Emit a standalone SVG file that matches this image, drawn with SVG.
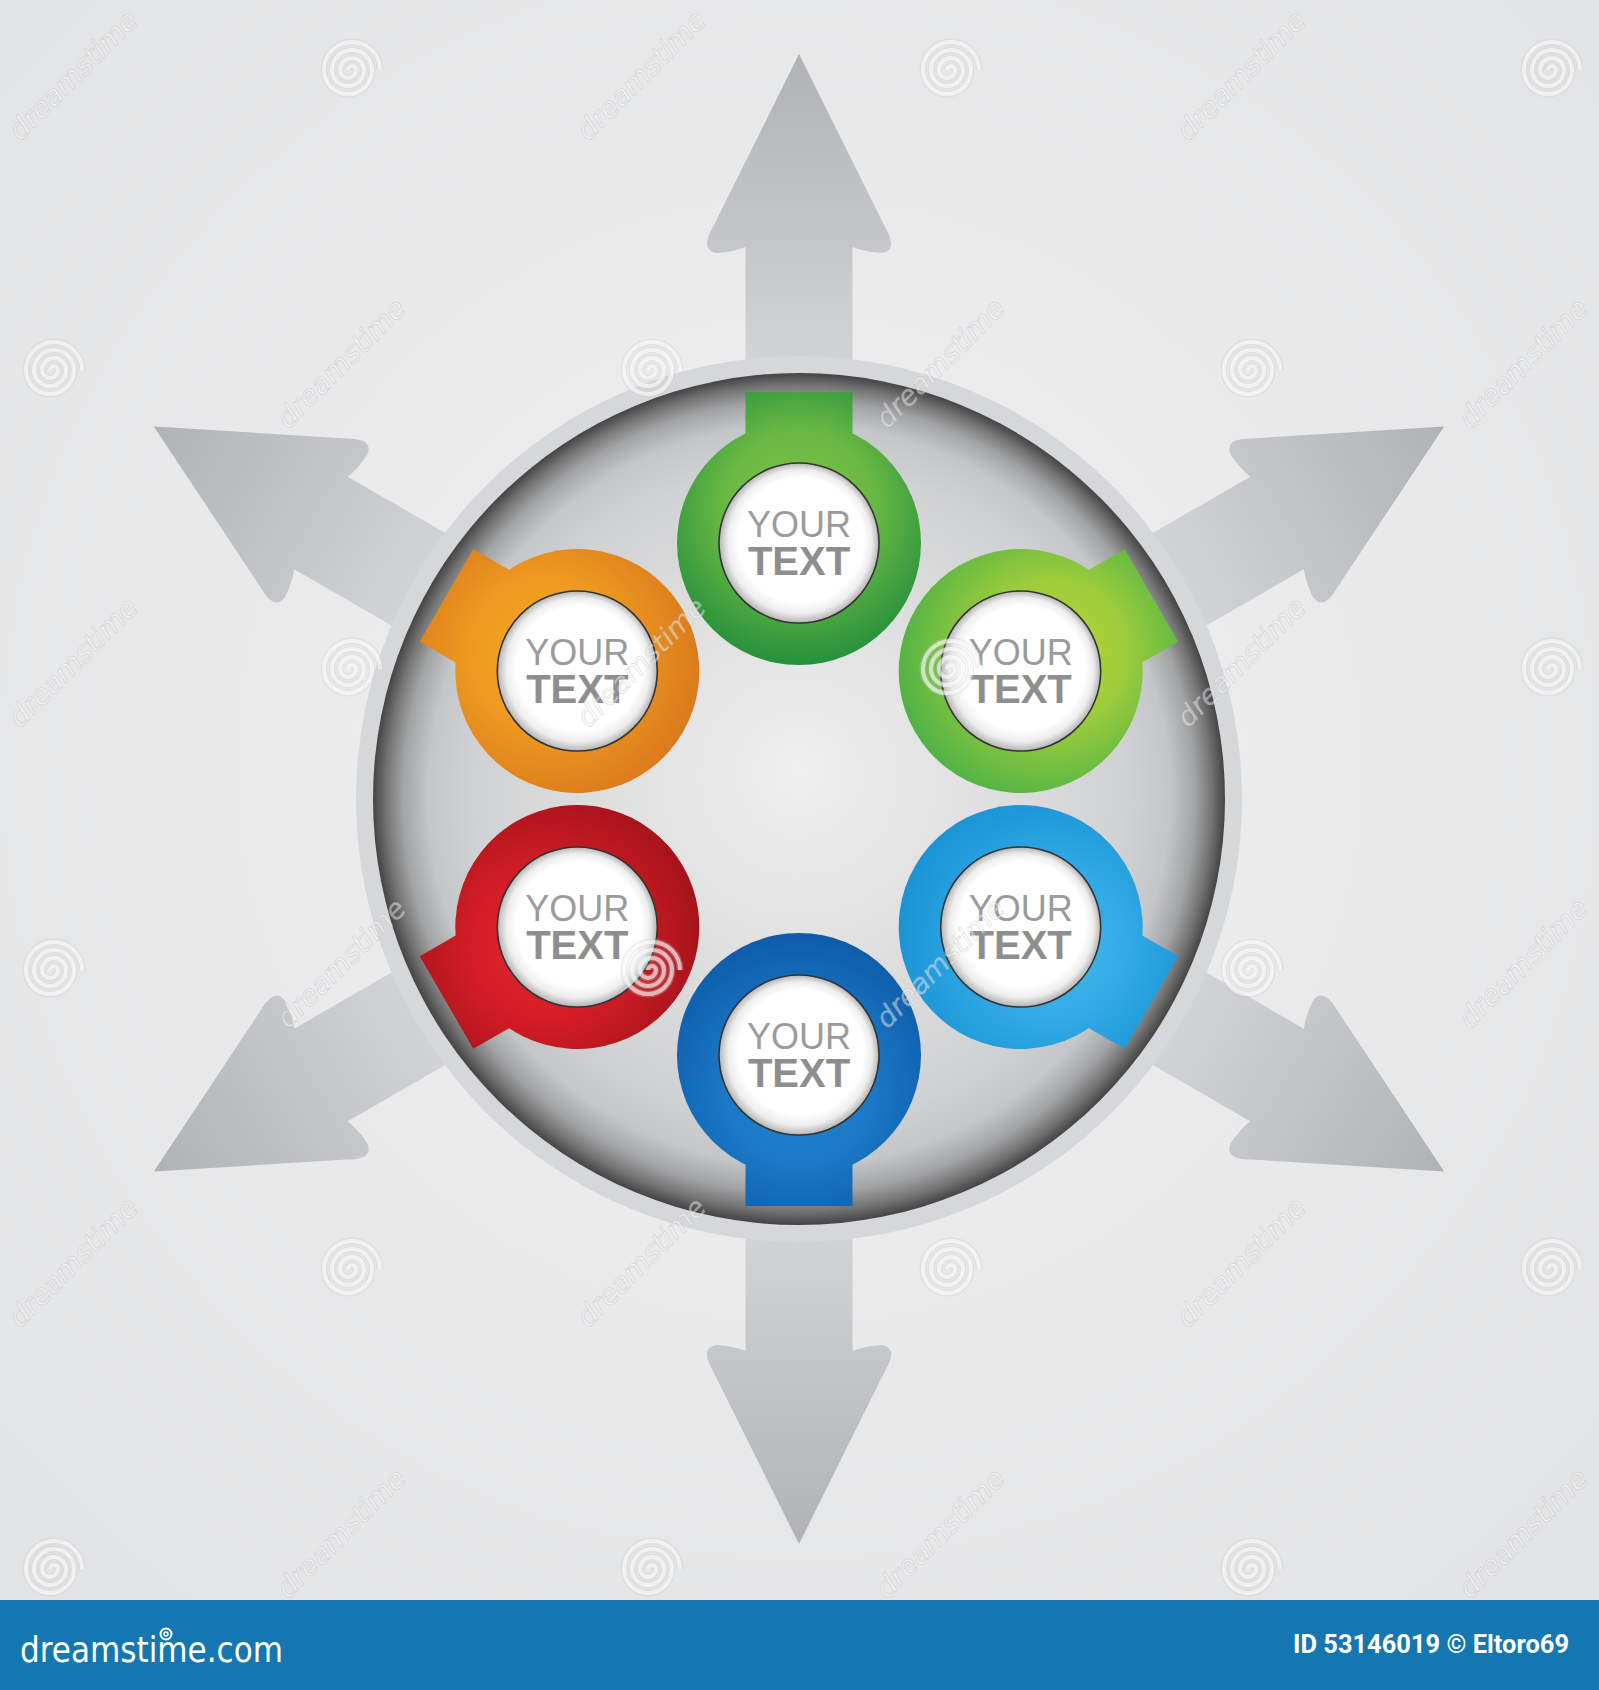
<svg xmlns="http://www.w3.org/2000/svg" width="1599" height="1690" viewBox="0 0 1599 1690">
  <style>
    .your { font-family: "Liberation Sans", Arial, sans-serif; font-size: 36px; fill: #9b9b9b; text-anchor: middle; }
    .text { font-family: "Liberation Sans", Arial, sans-serif; font-size: 40px; font-weight: bold; fill: #8e8e8e; text-anchor: middle; }
    .hole { fill: url(#holeGrad); stroke: #333333; stroke-width: 1.6; }
    .arrow { fill: url(#arrowGrad); }
    .sp1 { fill: none; stroke: #c9cacb; stroke-width: 7; stroke-opacity: 0.3; }
    .sp2 { fill: none; stroke: #ffffff; stroke-width: 4; stroke-opacity: 0.6; }
    .wm { font-family: "DejaVu Sans", sans-serif; font-size: 28px; font-style: italic; fill: #ffffff; fill-opacity: 0.45; stroke: #a8a8a8; stroke-opacity: 0.3; stroke-width: 1; text-anchor: middle; }
  </style>
  <defs>
    <radialGradient id="bgGrad" cx="799" cy="760" r="1100" gradientUnits="userSpaceOnUse">
      <stop offset="0" stop-color="#f1f1f2"/>
      <stop offset="1" stop-color="#e2e3e4"/>
    </radialGradient>
    <linearGradient id="arrowGrad" x1="0" y1="-745" x2="0" y2="-420" gradientUnits="userSpaceOnUse">
      <stop offset="0" stop-color="#b1b2b4"/>
      <stop offset="1" stop-color="#d4d5d7"/>
    </linearGradient>
    <radialGradient id="discGrad" cx="799" cy="799" r="426" fx="799" fy="770" gradientUnits="userSpaceOnUse">
      <stop offset="0" stop-color="#efefef"/>
      <stop offset="0.4" stop-color="#e1e1e2"/>
      <stop offset="0.76" stop-color="#d1d2d3"/>
      <stop offset="0.87" stop-color="#c5c6c7"/>
      <stop offset="0.93" stop-color="#a2a3a4"/>
      <stop offset="0.97" stop-color="#737373"/>
      <stop offset="1" stop-color="#444444"/>
    </radialGradient>
    <radialGradient id="holeGrad" cx="0.5" cy="0.5" r="0.5" fx="0.55" fy="0.42">
      <stop offset="0" stop-color="#ffffff"/>
      <stop offset="0.78" stop-color="#ffffff"/>
      <stop offset="0.9" stop-color="#ededed"/>
      <stop offset="1" stop-color="#b4b4b4"/>
    </radialGradient>
    <radialGradient id="gGreen" cx="0" cy="-285" r="175" fx="0" fy="-300" gradientUnits="userSpaceOnUse">
      <stop offset="0" stop-color="#7cc143"/>
      <stop offset="0.42" stop-color="#6ab944"/>
      <stop offset="1" stop-color="#12853a"/>
    </radialGradient>
    <radialGradient id="gLime" cx="0" cy="-285" r="175" fx="0" fy="-300" gradientUnits="userSpaceOnUse">
      <stop offset="0" stop-color="#bad631"/>
      <stop offset="0.42" stop-color="#9ccc3c"/>
      <stop offset="1" stop-color="#3aab48"/>
    </radialGradient>
    <radialGradient id="gSky" cx="0" cy="-285" r="175" fx="0" fy="-300" gradientUnits="userSpaceOnUse">
      <stop offset="0" stop-color="#48b9ec"/>
      <stop offset="0.42" stop-color="#31aae6"/>
      <stop offset="1" stop-color="#148dd0"/>
    </radialGradient>
    <radialGradient id="gBlue" cx="0" cy="-285" r="175" fx="0" fy="-300" gradientUnits="userSpaceOnUse">
      <stop offset="0" stop-color="#2385d2"/>
      <stop offset="0.42" stop-color="#1a78c6"/>
      <stop offset="1" stop-color="#0a54a2"/>
    </radialGradient>
    <radialGradient id="gRed" cx="0" cy="-285" r="175" fx="0" fy="-300" gradientUnits="userSpaceOnUse">
      <stop offset="0" stop-color="#e2262c"/>
      <stop offset="0.42" stop-color="#d41d26"/>
      <stop offset="1" stop-color="#9a1017"/>
    </radialGradient>
    <radialGradient id="gOrange" cx="0" cy="-285" r="175" fx="0" fy="-300" gradientUnits="userSpaceOnUse">
      <stop offset="0" stop-color="#f5a821"/>
      <stop offset="0.42" stop-color="#ee9a20"/>
      <stop offset="1" stop-color="#d5711c"/>
    </radialGradient>
    <path id="arrowShape" d="M0,-745 L86,-572 Q100,-548 82,-546 Q66,-547 53.5,-552 L53.5,-300 L-53.5,-300 L-53.5,-552 Q-66,-547 -82,-546 Q-100,-548 -86,-572 Z"/>
    <g id="ringShape">
      <circle cx="0" cy="-256" r="122"/>
      <rect x="-53.5" y="-407" width="107" height="160"/>
    </g>
    <g id="spiral">
      <path class="sp1" d="M0,0 a4,4 0 0 1 8,0 a8,8 0 0 1 -16,0 a12,12 0 0 1 24,0 a16,16 0 0 1 -32,0 a20,20 0 0 1 40,0 a24,24 0 0 1 -48,0 a28,28 0 0 1 56,0"/>
      <path class="sp2" d="M0,0 a4,4 0 0 1 8,0 a8,8 0 0 1 -16,0 a12,12 0 0 1 24,0 a16,16 0 0 1 -32,0 a20,20 0 0 1 40,0 a24,24 0 0 1 -48,0 a28,28 0 0 1 56,0"/>
    </g>
  </defs>

  <!-- background -->
  <rect x="0" y="0" width="1599" height="1600" fill="url(#bgGrad)"/>

  <!-- connectors: radiating arrows -->
  <g id="connectors">
    <use href="#arrowShape" class="arrow" transform="translate(799,799) rotate(0)"/>
    <use href="#arrowShape" class="arrow" transform="translate(799,799) rotate(60)"/>
    <use href="#arrowShape" class="arrow" transform="translate(799,799) rotate(120)"/>
    <use href="#arrowShape" class="arrow" transform="translate(799,799) rotate(180)"/>
    <use href="#arrowShape" class="arrow" transform="translate(799,799) rotate(240)"/>
    <use href="#arrowShape" class="arrow" transform="translate(799,799) rotate(300)"/>
  </g>

  <!-- central hub -->
  <g id="hub">
    <circle cx="799" cy="799" r="443" fill="#d6d7d9"/>
    <circle cx="799" cy="799" r="426" fill="url(#discGrad)"/>
  </g>

  <g id="node-green">
    <use href="#ringShape" fill="url(#gGreen)" transform="translate(799,799) rotate(0)"/>
    <circle class="hole" cx="799" cy="543" r="80"/>
    <text class="your" x="799" y="537">YOUR</text>
    <text class="text" x="799" y="575">TEXT</text>
  </g>
  <g id="node-lime">
    <use href="#ringShape" fill="url(#gLime)" transform="translate(799,799) rotate(60)"/>
    <circle class="hole" cx="1020.7" cy="671" r="80"/>
    <text class="your" x="1020.7" y="665">YOUR</text>
    <text class="text" x="1020.7" y="703">TEXT</text>
  </g>
  <g id="node-sky">
    <use href="#ringShape" fill="url(#gSky)" transform="translate(799,799) rotate(120)"/>
    <circle class="hole" cx="1020.7" cy="927" r="80"/>
    <text class="your" x="1020.7" y="921">YOUR</text>
    <text class="text" x="1020.7" y="959">TEXT</text>
  </g>
  <g id="node-blue">
    <use href="#ringShape" fill="url(#gBlue)" transform="translate(799,799) rotate(180)"/>
    <circle class="hole" cx="799" cy="1055" r="80"/>
    <text class="your" x="799" y="1049">YOUR</text>
    <text class="text" x="799" y="1087">TEXT</text>
  </g>
  <g id="node-red">
    <use href="#ringShape" fill="url(#gRed)" transform="translate(799,799) rotate(240)"/>
    <circle class="hole" cx="577.3" cy="927" r="80"/>
    <text class="your" x="577.3" y="921">YOUR</text>
    <text class="text" x="577.3" y="959">TEXT</text>
  </g>
  <g id="node-orange">
    <use href="#ringShape" fill="url(#gOrange)" transform="translate(799,799) rotate(300)"/>
    <circle class="hole" cx="577.3" cy="671" r="80"/>
    <text class="your" x="577.3" y="665">YOUR</text>
    <text class="text" x="577.3" y="703">TEXT</text>
  </g>

  <!-- watermark overlay -->
  <g id="watermark">
    <use href="#spiral" x="348" y="70"/>
    <use href="#spiral" x="947" y="70"/>
    <use href="#spiral" x="1548" y="70"/>
    <use href="#spiral" x="50" y="370"/>
    <use href="#spiral" x="648" y="370"/>
    <use href="#spiral" x="1248" y="370"/>
    <use href="#spiral" x="348" y="669"/>
    <use href="#spiral" x="947" y="669"/>
    <use href="#spiral" x="1548" y="669"/>
    <use href="#spiral" x="50" y="970"/>
    <use href="#spiral" x="648" y="970"/>
    <use href="#spiral" x="1248" y="970"/>
    <use href="#spiral" x="348" y="1269"/>
    <use href="#spiral" x="947" y="1269"/>
    <use href="#spiral" x="1548" y="1269"/>
    <use href="#spiral" x="50" y="1569"/>
    <use href="#spiral" x="648" y="1569"/>
    <use href="#spiral" x="1248" y="1569"/>
    <text class="wm" transform="translate(80,82) rotate(-45)">dreamstime</text>
    <text class="wm" transform="translate(648,82) rotate(-45)">dreamstime</text>
    <text class="wm" transform="translate(1248,82) rotate(-45)">dreamstime</text>
    <text class="wm" transform="translate(348,370) rotate(-45)">dreamstime</text>
    <text class="wm" transform="translate(947,370) rotate(-45)">dreamstime</text>
    <text class="wm" transform="translate(1530,370) rotate(-45)">dreamstime</text>
    <text class="wm" transform="translate(80,669) rotate(-45)">dreamstime</text>
    <text class="wm" transform="translate(648,669) rotate(-45)">dreamstime</text>
    <text class="wm" transform="translate(1248,669) rotate(-45)">dreamstime</text>
    <text class="wm" transform="translate(348,970) rotate(-45)">dreamstime</text>
    <text class="wm" transform="translate(947,970) rotate(-45)">dreamstime</text>
    <text class="wm" transform="translate(1530,970) rotate(-45)">dreamstime</text>
    <text class="wm" transform="translate(80,1269) rotate(-45)">dreamstime</text>
    <text class="wm" transform="translate(648,1269) rotate(-45)">dreamstime</text>
    <text class="wm" transform="translate(1248,1269) rotate(-45)">dreamstime</text>
    <text class="wm" transform="translate(348,1540) rotate(-45)">dreamstime</text>
    <text class="wm" transform="translate(947,1540) rotate(-45)">dreamstime</text>
    <text class="wm" transform="translate(1530,1540) rotate(-45)">dreamstime</text>
  </g>

  <!-- footer bar -->
  <g id="footer">
    <rect x="0" y="1600" width="1599" height="90" fill="#1577b1"/>
    <circle cx="166" cy="1634" r="5.5" fill="none" stroke="#ffffff" stroke-width="2"/>
    <circle cx="166" cy="1634" r="2" fill="none" stroke="#ffffff" stroke-width="1.5"/>
    <text x="20" y="1662" font-family="'DejaVu Sans', sans-serif" font-size="36" fill="#ffffff" textLength="263" lengthAdjust="spacingAndGlyphs">dreamstime.com</text>
    <text x="1569" y="1653" font-family="Roboto, 'Liberation Sans', sans-serif" font-size="26" font-weight="bold" fill="#ffffff" text-anchor="end" textLength="276" lengthAdjust="spacingAndGlyphs">ID 53146019 © Eltoro69</text>
  </g>
</svg>
